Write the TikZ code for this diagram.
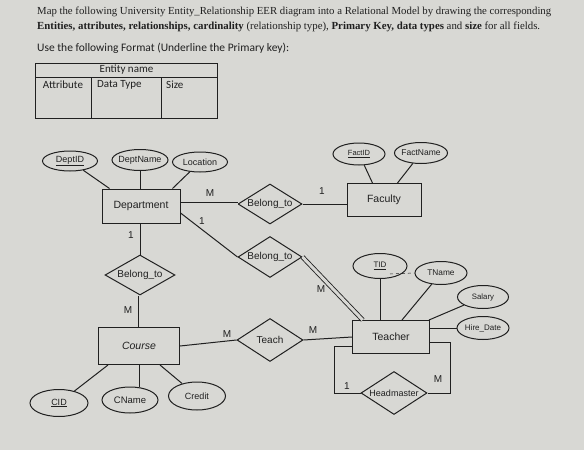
\documentclass[tikz,border=0pt]{standalone}
\usepackage{fontspec}
\setmainfont{Liberation Serif}
\newfontfamily\arialf{Liberation Sans}
\newfontfamily\calib{Carlito}
\usetikzlibrary{shapes.geometric,calc}
\definecolor{paper}{RGB}{216,216,212}
\definecolor{ink}{RGB}{32,32,32}
\tikzset{
  ent/.style 2 args={rectangle, draw=ink, line width=1pt, inner sep=0pt,
    minimum width=#1pt, minimum height=#2pt, text=ink,
    font=\arialf\fontsize{10.5}{12}\selectfont},
  rel/.style 2 args={diamond, draw=ink, line width=1pt, inner sep=0pt,
    minimum width=#1pt, minimum height=#2pt, text=ink,
    font=\arialf\fontsize{10}{12}\selectfont},
  attr/.style 2 args={ellipse, draw=ink, line width=1pt, inner sep=0pt,
    minimum width=#1pt, minimum height=#2pt, text=ink,
    font=\arialf\fontsize{9}{11}\selectfont},
  conn/.style={draw=ink, line width=1pt},
  dbl/.style={draw=ink, line width=0.85pt, double=paper, double distance=3pt},
  card/.style={inner sep=0pt, text=ink, font=\arialf\fontsize{10}{12}\selectfont},
  hdr/.style={inner sep=0pt, anchor=west, text=ink},
  tbl/.style={inner sep=0pt, text=ink, font=\calib\fontsize{11}{13}\selectfont},
}
\begin{document}
\begin{tikzpicture}[x=1pt,y=-1pt]
\fill[paper] (0,0) rectangle (584,450);
\useasboundingbox (0,0) rectangle (584,450);

% header text
\node[hdr] (l1) at (37,12) {\resizebox{514pt}{!}{\fontsize{10}{12}\selectfont Map the following University Entity\_Relationship EER diagram into a Relational Model by drawing the corresponding}};
\node[hdr] (l2) at (37,27) {\resizebox{503pt}{!}{\fontsize{10}{12}\selectfont\textbf{Entities, attributes, relationships, cardinality} (relationship type), \textbf{Primary Key, data types} and \textbf{size} for all fields.}};
\node[hdr] (l3) at (37,48) {\resizebox{252pt}{!}{\calib\fontsize{11}{13}\selectfont Use the following Format (Underline the Primary key):}};

% format table
\draw[conn, line width=0.8pt] (35,63) rectangle (217,118);
\draw[conn, line width=0.8pt] (35,77) -- (217,77);
\draw[conn, line width=0.8pt] (91,77) -- (91,118);
\draw[conn, line width=0.8pt] (161,77) -- (161,118);
\node[tbl] (tEn) at (126.5,70) {Entity name};
\node[tbl] (tAt) at (63,85) {Attribute};
\node[tbl, anchor=west] (tDt) at (97,85) {Data Type};
\node[tbl, anchor=west] (tSz) at (166,85) {Size};

% entities
\node[ent={78}{34}] (dept) at (141,206) {Department};
\node[ent={74}{33}] (faculty) at (384,200) {Faculty};
\node[ent={81}{37}] (course) at (139,346) {\itshape Course};
\node[ent={77}{33}] (teacher) at (391,337) {Teacher};

% relationships
\node[rel={64}{40}] (b1) at (270,204) {\makebox[0pt]{Belong\_to}};
\node[rel={64}{41}] (b2) at (270,257) {\makebox[0pt]{Belong\_to}};
\node[rel={70}{40}] (b3) at (140,275) {\makebox[0pt]{Belong\_to}};
\node[rel={66}{43}] (teach) at (270,340) {\makebox[0pt]{Teach}};
\node[rel={66}{43}, font=\arialf\fontsize{9}{11}\selectfont] (head) at (394,393) {\makebox[0pt]{Headmaster}};

% attributes
\node[attr={55}{20}] (deptid) at (70,161) {\makebox[0pt]{\underline{DeptID}}};
\node[attr={56}{21}] (deptname) at (140,160) {\makebox[0pt]{DeptName}};
\node[attr={55}{20}] (location) at (200,162) {\makebox[0pt]{Location}};
\node[attr={52}{22}, font=\arialf\fontsize{7.5}{9}\selectfont] (factid) at (359,154) {\makebox[0pt]{\underline{FactID}}};
\node[attr={53}{21}, font=\arialf\fontsize{8.5}{10}\selectfont] (factname) at (421,153) {\makebox[0pt]{FactName}};
\node[attr={58}{27}] (cid) at (59,403) {\makebox[0pt]{\underline{CID}}};
\node[attr={56}{26}, font=\arialf\fontsize{9.5}{11}\selectfont] (cname) at (130,400) {\makebox[0pt]{CName}};
\node[attr={57}{28}] (credit) at (197,396) {\makebox[0pt]{Credit}};
\node[attr={54}{25}, font=\arialf\fontsize{8}{10}\selectfont] (tid) at (380,266) {\makebox[0pt]{\underline{TID}}};
\node[attr={52}{23}, font=\arialf\fontsize{8.3}{10}\selectfont] (tname) at (441,273) {\makebox[0pt]{TName}};
\node[attr={51}{23}, font=\arialf\fontsize{7.8}{10}\selectfont] (salary) at (483,297) {\makebox[0pt]{Salary}};
\node[attr={52}{23}, font=\arialf\fontsize{8}{10}\selectfont] (hire) at (483,328) {\makebox[0pt]{Hire\_Date}};

% attribute links
\draw[conn] (deptid) -- ($(dept.north west)+(8,0)$);
\draw[conn] (deptname) -- (deptname |- dept.north);
\draw[conn] (location) -- ($(dept.north east)+(-8,0)$);
\draw[conn] (factid) -- ($(faculty.north west)+(26,0)$);
\draw[conn] (factname) -- ($(faculty.north west)+(51,0)$);
\draw[conn] (cid) -- ($(course.south west)+(10,0)$);
\draw[conn] (course.south) -- (cname.north -| course.south);
\draw[conn] (credit) -- ($(course.south west)+(62,0)$);
\draw[conn] (tid) -- (tid |- teacher.north);
\draw[conn, dashed, line width=0.5pt] ($(tid.center)+(10,8)$) -- (tname.west);
\draw[conn] (tname) -- ($(teacher.north west)+(50,0)$);
\draw[conn] (salary) -- ($(teacher.north east)+(-1,0)$);
\draw[conn] (hire) -- (teacher.east |- hire);

% relationship links
\draw[dbl] (dept.east |- b1) -- (b1.west);
\draw[conn] (b1.east) -- (faculty.west |- b1.east);
\draw[conn] (dept.-10) -- (b2.west);
\draw[dbl] (b2.east) -- (teacher.149);
\draw[conn] (dept.south -| b3.north) -- (b3.north);
\draw[dbl] (b3.south) -- (b3.south |- course.north);
\draw[conn] (course.east) -- (teach.west);
\draw[conn] (teach.east) -- (teacher.west);
\draw[conn] ($(teacher.west)+(0,9)$) -- ++(-18,0) |- (head.west);
\draw[conn] ($(teacher.east)+(0,5)$) -- ++(20,0) |- (head.east);

% cardinalities
\node[card] (c1) at (210,193) {M};
\node[card] (c2) at (322,191) {1};
\node[card] (c3) at (202,221) {1};
\node[card] (c4) at (131,235) {1};
\node[card] (c5) at (128,310) {M};
\node[card] (c6) at (227,334) {M};
\node[card] (c7) at (313,330) {M};
\node[card] (c8) at (321,289) {M};
\node[card] (c9) at (347,386) {1};
\node[card] (c10) at (438,379) {M};
\end{tikzpicture}
\end{document}
